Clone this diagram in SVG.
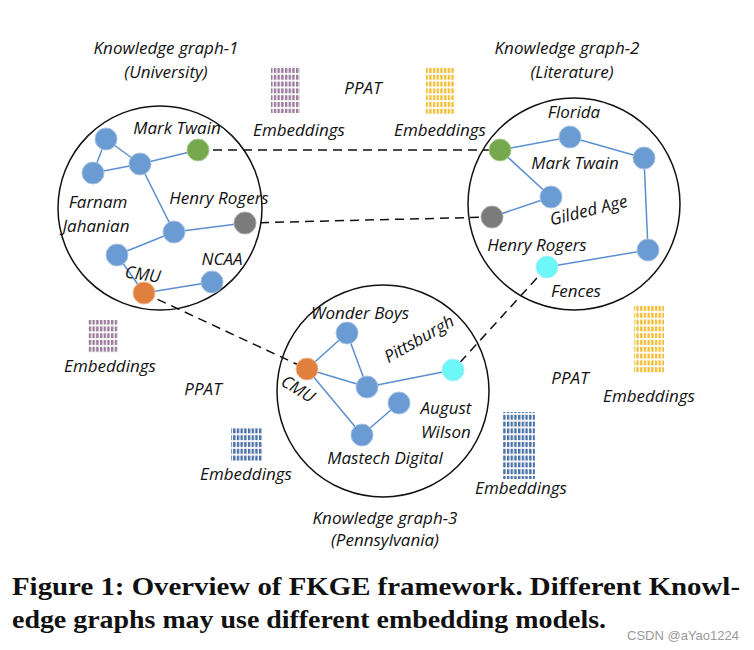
<svg xmlns="http://www.w3.org/2000/svg" width="754" height="650" viewBox="0 0 754 650">
<style>
.t{font-family:"Open Sans","DejaVu Sans",sans-serif;font-style:italic;font-size:17px;fill:#111;text-anchor:middle}
.kg{fill:none;stroke:#111;stroke-width:1.5}
.e{stroke:#5b8fd0;stroke-width:1.5}
.d{stroke:#111;stroke-width:1.5;stroke-dasharray:9,6;fill:none}
.b{fill:#6a9bd3;stroke:#a8c2e2;stroke-width:1}
.cap{font-family:"Liberation Serif",serif;font-weight:bold;font-size:25px;fill:#111}
</style>
<defs>
<pattern id="pp" width="3.7" height="6.8" patternUnits="userSpaceOnUse"><rect width="2.4" height="5" fill="#9c7c9e"/></pattern>
<pattern id="py" width="3.7" height="6.8" patternUnits="userSpaceOnUse"><rect width="2.4" height="5" fill="#f3bf3a"/></pattern>
<pattern id="pb" width="3.7" height="6.8" patternUnits="userSpaceOnUse"><rect width="2.4" height="5" fill="#4d72a8"/></pattern>
</defs>
<rect width="754" height="650" fill="#fff"/>
<g id="emb">
<rect x="271" y="66" width="29" height="47" fill="url(#pp)"/>
<rect x="426" y="67" width="29" height="47" fill="url(#py)"/>
<rect x="88" y="320" width="30" height="33" fill="url(#pp)"/>
<rect x="634" y="305" width="30" height="68" fill="url(#py)"/>
<rect x="231" y="428" width="31" height="33" fill="url(#pb)"/>
<rect x="503" y="412" width="32" height="67" fill="url(#pb)"/>
</g>
<g id="connectors">
<line class="d" x1="198" y1="150" x2="500" y2="150"/>
<line class="d" x1="245" y1="223" x2="492" y2="217"/>
<line class="d" x1="144" y1="293" x2="307" y2="369"/>
<line class="d" x1="547" y1="267" x2="453" y2="370"/>
<g class="e">
<line x1="106" y1="139" x2="93" y2="173"/><line x1="106" y1="139" x2="140" y2="164"/>
<line x1="93" y1="173" x2="140" y2="164"/><line x1="140" y1="164" x2="198" y2="150"/>
<line x1="140" y1="164" x2="174" y2="232"/><line x1="174" y1="232" x2="245" y2="223"/>
<line x1="174" y1="232" x2="117" y2="255"/><line x1="117" y1="255" x2="144" y2="293"/>
<line x1="144" y1="293" x2="212" y2="282"/>
<line x1="500" y1="150" x2="570" y2="137"/><line x1="570" y1="137" x2="644" y2="158"/>
<line x1="644" y1="158" x2="648" y2="250"/><line x1="648" y1="250" x2="547" y2="267"/>
<line x1="500" y1="150" x2="551" y2="197"/><line x1="551" y1="197" x2="492" y2="217"/>
<line x1="307" y1="369" x2="347" y2="333"/><line x1="347" y1="333" x2="367" y2="387"/>
<line x1="307" y1="369" x2="367" y2="387"/><line x1="367" y1="387" x2="453" y2="370"/>
<line x1="307" y1="369" x2="362" y2="435"/><line x1="362" y1="435" x2="399" y2="403"/>
</g>
</g>
<g id="kg1">
<circle class="kg" cx="160" cy="208" r="102"/>
<circle class="b" cx="106" cy="139" r="11"/><circle class="b" cx="93" cy="173" r="11"/>
<circle class="b" cx="140" cy="164" r="11"/><circle cx="198" cy="150" r="11" fill="#76a94f" stroke="#a9cc90"/>
<circle class="b" cx="174" cy="232" r="11"/><circle cx="245" cy="223" r="11" fill="#7b7b7b" stroke="#aaa"/>
<circle class="b" cx="117" cy="255" r="11"/><circle class="b" cx="212" cy="282" r="11"/>
<circle cx="144" cy="293" r="11" fill="#e07f3e" stroke="#f0b890"/>
<text class="t" x="177" y="134">Mark Twain</text>
<text class="t" x="98" y="208">Farnam</text><text class="t" x="96" y="232">Jahanian</text>
<text class="t" x="219" y="204">Henry Rogers</text>
<text class="t" x="222" y="265">NCAA</text>
<text class="t" transform="translate(142,280) rotate(8)">CMU</text>
</g>
<g id="kg2">
<circle class="kg" cx="574" cy="204" r="106"/>
<circle cx="500" cy="150" r="11" fill="#76a94f" stroke="#a9cc90"/>
<circle class="b" cx="570" cy="137" r="11"/><circle class="b" cx="644" cy="158" r="11"/>
<circle class="b" cx="551" cy="197" r="11"/><circle cx="492" cy="217" r="11" fill="#7b7b7b" stroke="#aaa"/>
<circle class="b" cx="648" cy="250" r="11"/><circle cx="547" cy="267" r="11" fill="#6ef7f9" stroke="#b0f0f4"/>
<text class="t" x="574" y="118">Florida</text>
<text class="t" x="575" y="169">Mark Twain</text>
<text class="t" transform="translate(590,216) rotate(-14)">Gilded Age</text>
<text class="t" x="537" y="251">Henry Rogers</text>
<text class="t" x="576" y="297">Fences</text>
</g>
<g id="kg3">
<circle class="kg" cx="383" cy="391" r="106"/>
<circle cx="307" cy="369" r="11" fill="#e07f3e" stroke="#f0b890"/>
<circle class="b" cx="347" cy="333" r="11"/><circle class="b" cx="367" cy="387" r="11"/>
<circle cx="453" cy="370" r="11" fill="#6ef7f9" stroke="#b0f0f4"/>
<circle class="b" cx="399" cy="403" r="11"/><circle class="b" cx="362" cy="435" r="11"/>
<text class="t" x="360" y="319">Wonder Boys</text>
<text class="t" transform="translate(422,344) rotate(-30)">Pittsburgh</text>
<text class="t" transform="translate(295,394) rotate(32)">CMU</text>
<text class="t" x="446" y="414">August</text><text class="t" x="446" y="438">Wilson</text>
<text class="t" x="385" y="464">Mastech Digital</text>
</g>
<g id="labels">
<text class="t" x="166" y="54">Knowledge graph-1</text><text class="t" x="166" y="78">(University)</text>
<text class="t" x="567" y="54">Knowledge graph-2</text><text class="t" x="572" y="78">(Literature)</text>
<text class="t" x="363" y="94">PPAT</text>
<text class="t" x="299" y="136">Embeddings</text><text class="t" x="440" y="136">Embeddings</text>
<text class="t" x="110" y="372">Embeddings</text><text class="t" x="203" y="395">PPAT</text>
<text class="t" x="246" y="480">Embeddings</text>
<text class="t" x="385" y="524">Knowledge graph-3</text><text class="t" x="385" y="546">(Pennsylvania)</text>
<text class="t" x="521" y="494">Embeddings</text><text class="t" x="570" y="384">PPAT</text>
<text class="t" x="649" y="402">Embeddings</text>
</g>
<text class="cap" x="12" y="595" textLength="728" lengthAdjust="spacingAndGlyphs">Figure 1: Overview of FKGE framework. Different Knowl-</text>
<text class="cap" x="12" y="628" textLength="594" lengthAdjust="spacingAndGlyphs">edge graphs may use different embedding models.</text>
<text x="683" y="640" font-family="Liberation Sans,sans-serif" font-size="13" fill="#999" text-anchor="middle">CSDN @aYao1224</text>
</svg>
